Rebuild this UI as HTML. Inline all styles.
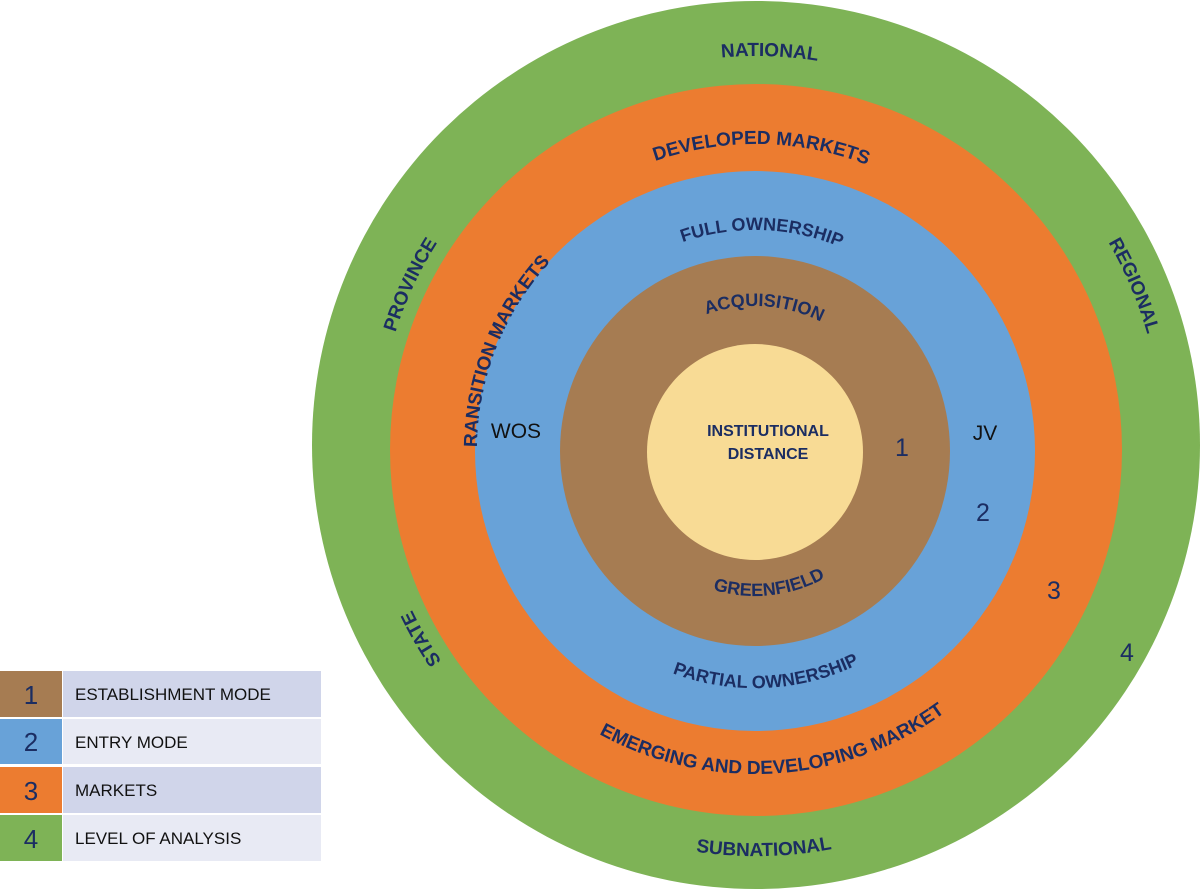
<!DOCTYPE html>
<html><head><meta charset="utf-8"><style>
html,body{margin:0;padding:0;background:#fff;width:1200px;height:889px;overflow:hidden}
svg{display:block}
.l{font-family:"Liberation Sans",sans-serif;font-weight:bold;fill:#1b2d62}
</style></head><body>
<svg width="1200" height="889" viewBox="0 0 1200 889" xmlns="http://www.w3.org/2000/svg">
<defs>
<path id="natP" d="M366,446 A390,390 0 1 1 1146,446 A390,390 0 1 1 366,446"/>
<path id="regP" d="M349,446 A407,407 0 1 1 1163,446 A407,407 0 1 1 349,446"/>
<path id="proP" d="M378,446 A378,378 0 1 1 1134,446 A378,378 0 1 1 378,446"/>
<path id="staP" d="M375,446 A381,381 0 1 1 1137,446 A381,381 0 1 1 375,446"/>
<path id="subP" d="M346,446 A410,410 0 1 0 1166,446 A410,410 0 1 0 346,446"/>
<path id="devP" d="M450,450 A306,306 0 1 1 1062,450 A306,306 0 1 1 450,450"/>
<path id="traP" d="M477,450 A278,278 0 1 1 1033,450 A278,278 0 1 1 477,450"/>
<path id="emeP" d="M431,450 A324,324 0 1 0 1079,450 A324,324 0 1 0 431,450"/>
<path id="fulP" d="M534,451 A221,221 0 1 1 976,451 A221,221 0 1 1 534,451"/>
<path id="parP" d="M518,451 A237,237 0 1 0 992,451 A237,237 0 1 0 518,451"/>
<path id="acqP" d="M610,451 A145,145 0 1 1 900,451 A145,145 0 1 1 610,451"/>
<path id="greP" d="M610,451 A145,145 0 1 0 900,451 A145,145 0 1 0 610,451"/>
</defs>
<circle cx="756" cy="445" r="444" fill="#7eb356"/>
<circle cx="756" cy="450" r="366" fill="#ec7c30"/>
<circle cx="755" cy="451" r="280" fill="#68a2d8"/>
<circle cx="755" cy="451" r="195" fill="#a67c52"/>
<circle cx="755" cy="452" r="108" fill="#f8db95"/>

<!-- arc labels: startOffset = r*(theta-180)*pi/180 for CW, r*(180-theta)*pi/180 for CCW -->
<text class="l" font-size="19"><textPath href="#natP" startOffset="626" text-anchor="middle">NATIONAL</textPath></text>
<text class="l" font-size="19"><textPath href="#regP" startOffset="1115" text-anchor="middle">REGIONAL</textPath></text>
<text class="l" font-size="19"><textPath href="#proP" startOffset="165" text-anchor="middle">PROVINCE</textPath></text>
<text class="l" font-size="19"><textPath href="#staP" startOffset="2194" text-anchor="middle">STATE</textPath></text>
<text class="l" font-size="19"><textPath href="#subP" startOffset="652" text-anchor="middle">SUBNATIONAL</textPath></text>
<text class="l" font-size="19"><textPath href="#devP" startOffset="486" text-anchor="middle">DEVELOPED MARKETS</textPath></text>
<text class="l" font-size="19"><textPath href="#traP" startOffset="99" text-anchor="middle">TRANSITION MARKETS</textPath></text>
<text class="l" font-size="19"><textPath href="#emeP" startOffset="529" text-anchor="middle">EMERGING AND DEVELOPING MARKET</textPath></text>
<text class="l" font-size="18"><textPath href="#fulP" startOffset="354" text-anchor="middle">FULL OWNERSHIP</textPath></text>
<text class="l" font-size="18"><textPath href="#parP" startOffset="384" text-anchor="middle">PARTIAL OWNERSHIP</textPath></text>
<text class="l" font-size="18"><textPath href="#acqP" startOffset="237" text-anchor="middle">ACQUISITION</textPath></text>
<text class="l" font-size="18"><textPath href="#greP" startOffset="243" text-anchor="middle">GREENFIELD</textPath></text>

<text x="768" y="436" class="l" font-size="16" text-anchor="middle">INSTITUTIONAL</text>
<text x="768" y="459" class="l" font-size="16" text-anchor="middle">DISTANCE</text>

<g font-family="Liberation Sans,sans-serif" font-size="21" fill="#111">
<text x="516" y="438" text-anchor="middle">WOS</text>
<text x="985" y="440" text-anchor="middle">JV</text>
</g>
<g font-family="Liberation Sans,sans-serif" font-size="25" fill="#1b2d62" text-anchor="middle">
<text x="902" y="456">1</text>
<text x="983" y="521">2</text>
<text x="1054" y="599">3</text>
<text x="1127" y="661">4</text>
</g>

<!-- legend -->
<rect x="0" y="671" width="62" height="46" fill="#a67c52"/>
<rect x="63" y="671" width="258" height="46" fill="#d0d5ea"/>
<rect x="0" y="719" width="62" height="45" fill="#68a2d8"/>
<rect x="63" y="719" width="258" height="45" fill="#e8eaf4"/>
<rect x="0" y="767" width="62" height="46" fill="#ec7c30"/>
<rect x="63" y="767" width="258" height="46" fill="#d0d5ea"/>
<rect x="0" y="815" width="62" height="46" fill="#7eb356"/>
<rect x="63" y="815" width="258" height="46" fill="#e8eaf4"/>
<g font-family="Liberation Sans,sans-serif" font-size="26" fill="#1b2d62" text-anchor="middle">
<text x="31" y="704">1</text>
<text x="31" y="751">2</text>
<text x="31" y="800">3</text>
<text x="31" y="848">4</text>
</g>
<g font-family="Liberation Sans,sans-serif" font-size="17" fill="#111">
<text x="75" y="700">ESTABLISHMENT MODE</text>
<text x="75" y="748">ENTRY MODE</text>
<text x="75" y="796">MARKETS</text>
<text x="75" y="844">LEVEL OF ANALYSIS</text>
</g>
</svg>
</body></html>
